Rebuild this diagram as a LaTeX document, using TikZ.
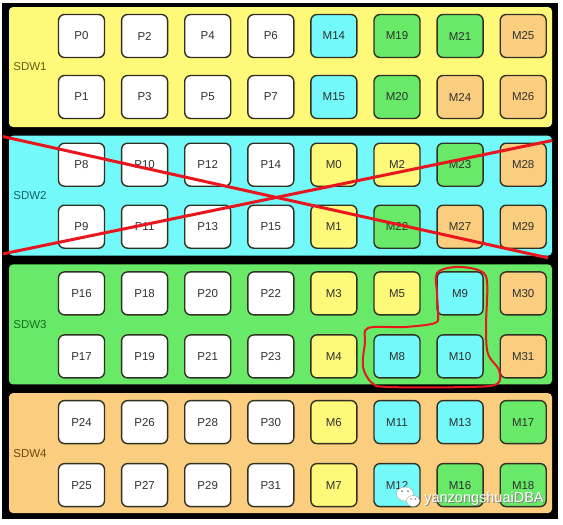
\documentclass[tikz,border=0pt]{standalone}
\usepackage{fontspec}
\setmainfont{Liberation Sans}
\usetikzlibrary{positioning}

\definecolor{sdwyellow}{RGB}{255,249,122}
\definecolor{sdwcyan}{RGB}{115,249,249}
\definecolor{sdwgreen}{RGB}{104,234,104}
\definecolor{sdworange}{RGB}{250,206,126}
\definecolor{boxline}{RGB}{50,48,34}
\definecolor{boxtext}{RGB}{48,48,48}
\definecolor{crossred}{RGB}{232,22,30}
\definecolor{tagyellow}{RGB}{100,94,20}
\definecolor{tagcyan}{RGB}{22,96,104}
\definecolor{taggreen}{RGB}{18,112,30}
\definecolor{tagorange}{RGB}{112,72,14}

\tikzset{
  panel/.style={rounded corners=4pt, minimum width=543pt, minimum height=120pt, inner sep=0pt},
  unit/.style={draw=boxline, line width=1.4pt, rounded corners=6pt, minimum width=46pt, minimum height=43pt, inner sep=0pt, text=boxtext, font=\fontsize{11.5}{13}\selectfont},
  tag/.style={font=\fontsize{11.5}{13}\selectfont},
  cross/.style={draw=crossred, line width=3pt},
}

\begin{document}
\begin{tikzpicture}[x=1pt,y=-1pt]

\def\cx{81.5}
\def\pitch{63.1}
\def\ptop{7}
\def\pgap{128.7}

\useasboundingbox (0,0) rectangle (563,525);
\fill [black] (2,3) rectangle (558,519);

% PANELS
\node [panel, fill=sdwyellow] (sdw1) at (280.5,{\ptop+60}) {};
\node [panel, fill=sdwcyan] (sdw2) at (280.5,{\ptop+\pgap+60}) {};
\node [panel, fill=sdwgreen] (sdw3) at (280.5,{\ptop+2*\pgap+60}) {};
\node [panel, fill=sdworange] (sdw4) at (280.5,{\ptop+3*\pgap+60}) {};
\node [tag, text=tagyellow] (tag1) at (30,{\ptop+60}) {SDW1};
\node [tag, text=tagcyan] (tag2) at (30,{\ptop+\pgap+60}) {SDW2};
\node [tag, text=taggreen] (tag3) at (30,{\ptop+2*\pgap+60}) {SDW3};
\node [tag, text=tagorange] (tag4) at (30,{\ptop+3*\pgap+60}) {SDW4};

% SDW1
\foreach \i/\lbl/\col in {0/P0/white,1/P2/white,2/P4/white,3/P6/white,4/M14/sdwcyan,5/M19/sdwgreen,6/M21/sdwgreen,7/M25/sdworange}
  \node [unit, fill=\col] (\lbl) at ({\cx+\pitch*\i},{\ptop+29}) {\lbl};
\foreach \i/\lbl/\col in {0/P1/white,1/P3/white,2/P5/white,3/P7/white,4/M15/sdwcyan,5/M20/sdwgreen,6/M24/sdworange,7/M26/sdworange}
  \node [unit, fill=\col] (\lbl) at ({\cx+\pitch*\i},{\ptop+90}) {\lbl};

% SDW2
\foreach \i/\lbl/\col in {0/P8/white,1/P10/white,2/P12/white,3/P14/white,4/M0/sdwyellow,5/M2/sdwyellow,6/M23/sdwgreen,7/M28/sdworange}
  \node [unit, fill=\col] (\lbl) at ({\cx+\pitch*\i},{\ptop+\pgap+29}) {\lbl};
\foreach \i/\lbl/\col in {0/P9/white,1/P11/white,2/P13/white,3/P15/white,4/M1/sdwyellow,5/M22/sdwgreen,6/M27/sdworange,7/M29/sdworange}
  \node [unit, fill=\col] (\lbl) at ({\cx+\pitch*\i},{\ptop+\pgap+91}) {\lbl};

% SDW3
\foreach \i/\lbl/\col in {0/P16/white,1/P18/white,2/P20/white,3/P22/white,4/M3/sdwyellow,5/M5/sdwyellow,6/M9/sdwcyan,7/M30/sdworange}
  \node [unit, fill=\col] (\lbl) at ({\cx+\pitch*\i},{\ptop+2*\pgap+29}) {\lbl};
\foreach \i/\lbl/\col in {0/P17/white,1/P19/white,2/P21/white,3/P23/white,4/M4/sdwyellow,5/M8/sdwcyan,6/M10/sdwcyan,7/M31/sdworange}
  \node [unit, fill=\col] (\lbl) at ({\cx+\pitch*\i},{\ptop+2*\pgap+92}) {\lbl};

% SDW4
\foreach \i/\lbl/\col in {0/P24/white,1/P26/white,2/P28/white,3/P30/white,4/M6/sdwyellow,5/M11/sdwcyan,6/M13/sdwcyan,7/M17/sdwgreen}
  \node [unit, fill=\col] (\lbl) at ({\cx+\pitch*\i},{\ptop+3*\pgap+29}) {\lbl};
\foreach \i/\lbl/\col in {0/P25/white,1/P27/white,2/P29/white,3/P31/white,4/M7/sdwyellow,5/M12/sdwcyan,6/M16/sdwgreen,7/M18/sdwgreen}
  \node [unit, fill=\col] (\lbl) at ({\cx+\pitch*\i},{\ptop+3*\pgap+92}) {\lbl};

% CROSS
\coordinate (xa) at ([shift={(-6,1)}]sdw2.north west);
\coordinate (xb) at ([shift={(-4,2)}]sdw2.south east);
\coordinate (xc) at ([shift={(-6,-2)}]sdw2.south west);
\coordinate (xd) at ([shift={(0,5)}]sdw2.north east);
\draw [cross] (xa) -- (xb);
\draw [cross] (xc) -- (xd);

% LOOP
\draw [crossred, line width=2pt] plot [smooth cycle, tension=0.55] coordinates {
  (437,273) (455,267) (478,270) (487,281) (486,327) (488,354) (499,370)
  (497,384) (468,387) (388,387) (372,383) (363,367) (365,343) (368,328)
  (405,327) (435,323) (438,314) (437,293)};

% MARK
\fill [white, draw=gray!70, line width=0.4pt] (405,494) ellipse (8.5 and 7);
\fill [white, draw=gray!70, line width=0.4pt] (413,501) ellipse (6.5 and 5.5);
\fill [gray] (402,491) circle (1) (408,491) circle (1) (411,499) circle (0.8) (415.5,499) circle (0.8);
\node [font=\fontsize{14.5}{16}\selectfont, text=gray] at (485,500) {yanzongshuaiDBA};
\node [font=\fontsize{14.5}{16}\selectfont, text=white] (mark) at (484,499) {yanzongshuaiDBA};

\end{tikzpicture}
\end{document}
